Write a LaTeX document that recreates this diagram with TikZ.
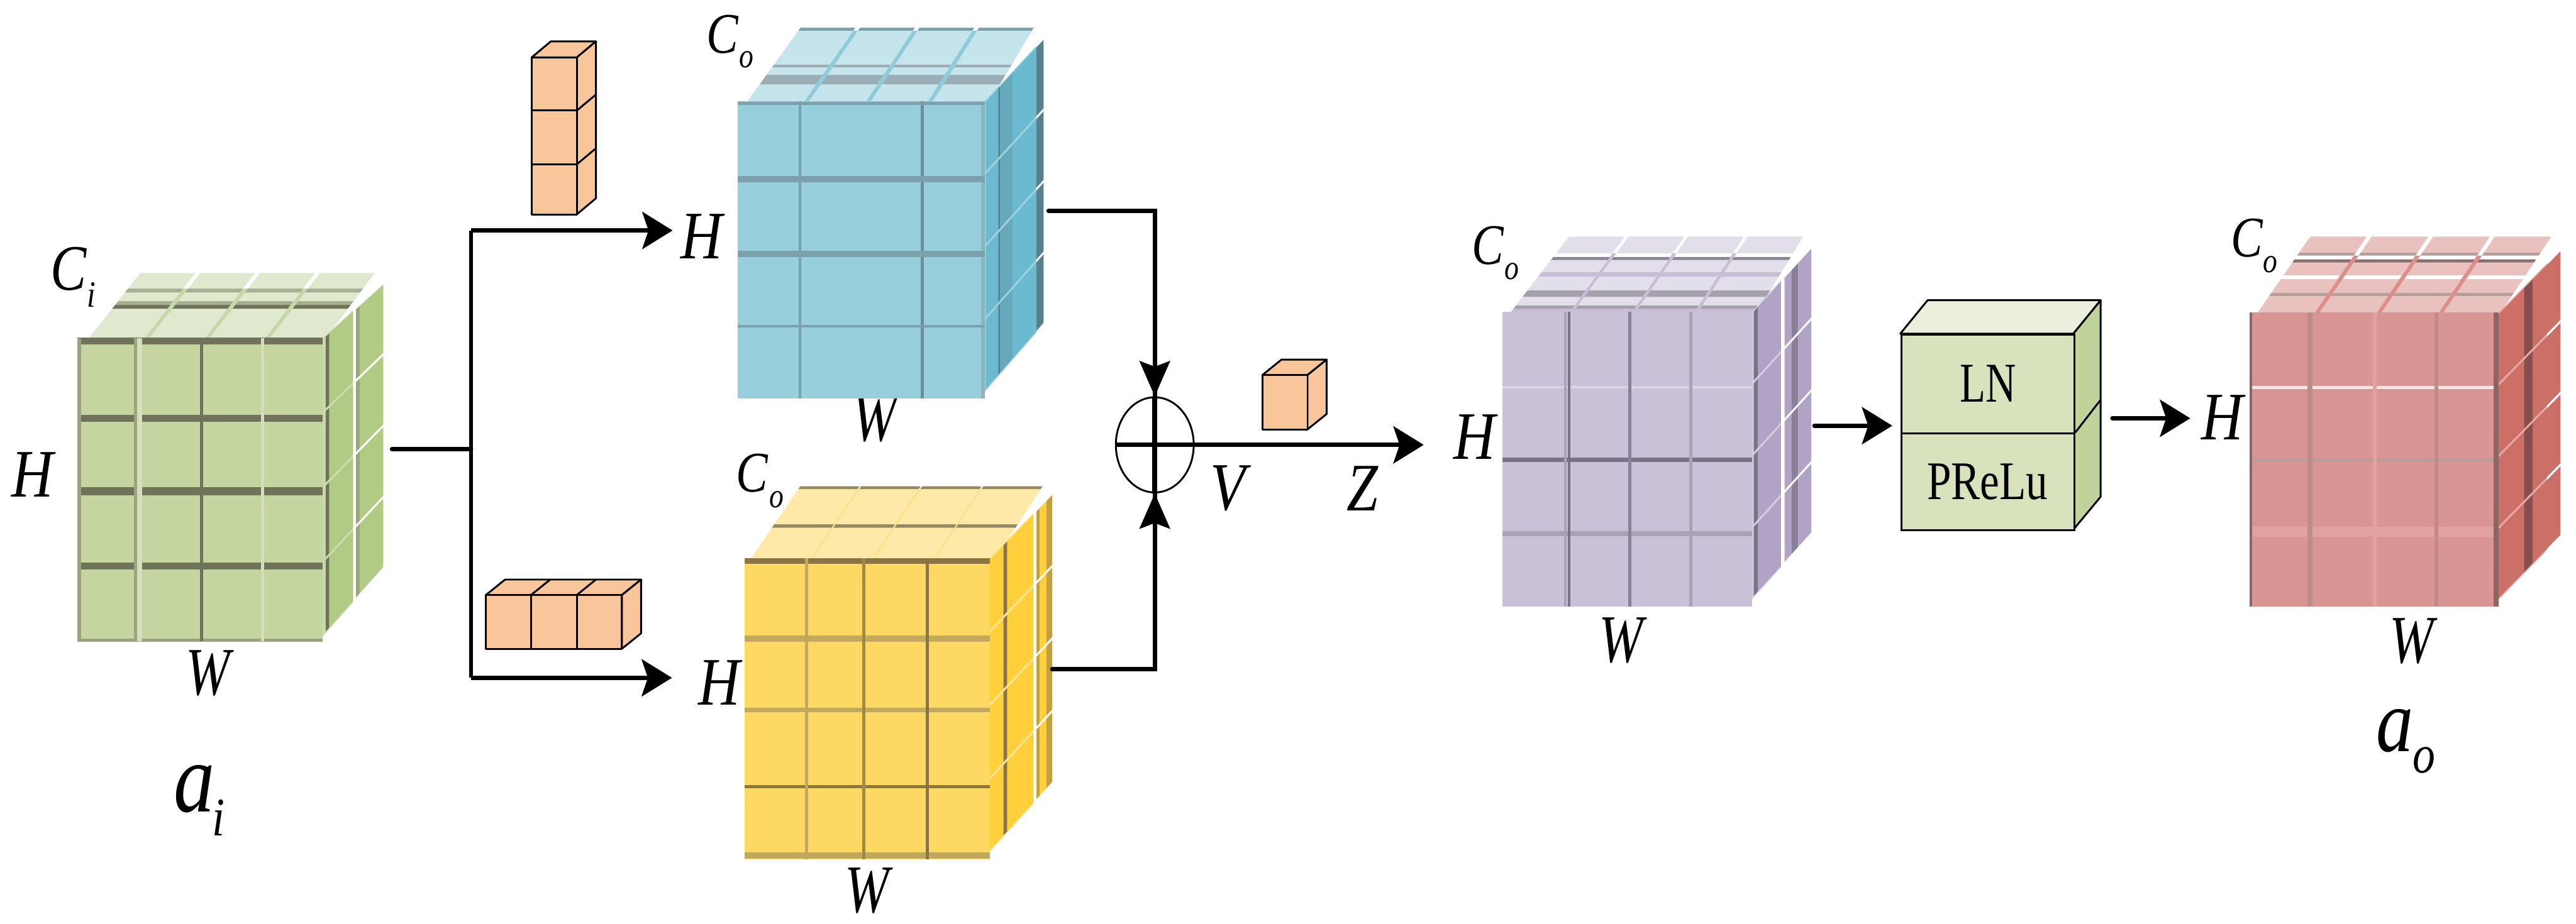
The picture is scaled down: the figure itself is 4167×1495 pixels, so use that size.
\documentclass[tikz,border=0pt]{standalone}
\usepackage{graphicx}
\usepackage{fontspec}
\setmainfont{Liberation Serif}
\usetikzlibrary{arrows.meta,shapes.geometric}
% ---------- colours
\definecolor{gMain}{HTML}{C5D59F}\definecolor{gTop}{HTML}{E0E9CD}\definecolor{gSide}{HTML}{B1CA84}
\definecolor{gDark}{HTML}{6F7359}\definecolor{gEdge}{HTML}{9BA37E}\definecolor{gLite}{HTML}{D3DFBB}
\definecolor{gStrip}{HTML}{A8AE90}\definecolor{gGap}{HTML}{C6D8A6}\definecolor{gBg}{HTML}{C9DAAB}
\definecolor{bMain}{HTML}{96CEDC}\definecolor{bTop}{HTML}{C5E4EC}\definecolor{bSide}{HTML}{6CBACF}
\definecolor{bMid}{HTML}{67A9BC}\definecolor{bDark}{HTML}{55808C}\definecolor{bEdge}{HTML}{7BA2AC}
\definecolor{bStrip}{HTML}{9AAEB5}\definecolor{bLine}{HTML}{6A8F9A}\definecolor{bRim}{HTML}{8DB5C1}
\definecolor{bGap}{HTML}{8FCBDB}\definecolor{bBg}{HTML}{9AD0DE}
\definecolor{yMain}{HTML}{FDD863}\definecolor{yTop}{HTML}{FFE9A8}\definecolor{ySide}{HTML}{FFCF3C}
\definecolor{yDark}{HTML}{8A7642}\definecolor{yEdge}{HTML}{C2A85C}\definecolor{yBack}{HTML}{C2A040}
\definecolor{yStrip}{HTML}{948A62}\definecolor{yLine}{HTML}{9C8A4D}\definecolor{yGap}{HTML}{FFDE7E}
\definecolor{yBg}{HTML}{FFE596}
\definecolor{pMain}{HTML}{CAC1D9}\definecolor{pTop}{HTML}{E2DEEA}\definecolor{pSide}{HTML}{B0A3C6}
\definecolor{pDark}{HTML}{7A7286}\definecolor{pEdge}{HTML}{A8A2B2}\definecolor{pBack}{HTML}{8A8099}
\definecolor{pStrip}{HTML}{A5A1AB}\definecolor{pLite}{HTML}{DAD5E3}\definecolor{pGap}{HTML}{C9BDD6}
\definecolor{pStripD}{HTML}{888490}\definecolor{pBg}{HTML}{D3CCE0}
\definecolor{rMain}{HTML}{D99593}\definecolor{rTop}{HTML}{E9C2C0}\definecolor{rSide}{HTML}{CC6F66}
\definecolor{rDark}{HTML}{85504C}\definecolor{rEdge}{HTML}{BD8C88}\definecolor{rStrip}{HTML}{B59E9C}
\definecolor{rStripD}{HTML}{8A6E6E}\definecolor{rLite}{HTML}{E0A3A0}\definecolor{rWhite}{HTML}{F6E4E3}
\definecolor{rFrame}{HTML}{8D6662}\definecolor{rGap}{HTML}{DC8E88}\definecolor{rBg}{HTML}{E3A6A1}
\definecolor{orangeBox}{HTML}{F9C59B}
\definecolor{lnFront}{HTML}{D8E3BE}\definecolor{lnTop}{HTML}{EBEFDE}\definecolor{lnSide}{HTML}{C0D39B}
% ---------- tensor geometry
\newcommand\setfront[4]{\def\fxa{#1}\def\fya{#2}\def\fxb{#3}\def\fyb{#4}}
% left front, left back, right front, right back, back y, tile gap
\newcommand\settop[6]{\def\tLa{#1}\def\tLb{#2}\def\tRa{#3}\def\tRb{#4}\def\tyb{#5}\def\tgap{#6}}
% back x, back top y, back bottom y, front bottom y, row gap
\newcommand\setside[5]{\def\sxb{#1}\def\syt{#2}\def\syb{#3}\def\syf{#4}\def\srg{#5}}
\newcommand\topband[3]{%
  \pgfmathsetmacro\Ls{\tLa+#1*(\tLb-\tLa)}\pgfmathsetmacro\Le{\tLa+#2*(\tLb-\tLa)}%
  \pgfmathsetmacro\Rs{\tRa+#1*(\tRb-\tRa)}\pgfmathsetmacro\Re{\tRa+#2*(\tRb-\tRa)}%
  \pgfmathsetmacro\Ys{\fya+#1*(\tyb-\fya)}\pgfmathsetmacro\Ye{\fya+#2*(\tyb-\fya)}%
  \foreach \i in {0,1,2,3}{%
    \pgfmathsetmacro\sa{\Ls+(\Rs-\Ls)*\i/4+\tgap/2}\pgfmathsetmacro\sb{\Ls+(\Rs-\Ls)*(\i+1)/4-\tgap/2}%
    \pgfmathsetmacro\ea{\Le+(\Re-\Le)*\i/4+\tgap/2}\pgfmathsetmacro\eb{\Le+(\Re-\Le)*(\i+1)/4-\tgap/2}%
    \fill[#3] (\sa,\Ys) -- (\sb,\Ys) -- (\eb,\Ye) -- (\ea,\Ye) -- cycle;
  }}
\newcommand\topgaps[2]{%
  \foreach \i in {1,2,3}{%
    \pgfmathsetmacro\sa{\tLa+(\tRa-\tLa)*\i/4}\pgfmathsetmacro\ea{\tLa+#2*(\tLb-\tLa)+(\tRa+#2*(\tRb-\tRa)-\tLa-#2*(\tLb-\tLa))*\i/4}%
    \pgfmathsetmacro\ey{\fya+#2*(\tyb-\fya)}%
    \fill[#1] (\sa-\tgap/2,\fya) -- (\sa+\tgap/2,\fya) -- (\ea+\tgap/2,\ey) -- (\ea-\tgap/2,\ey) -- cycle;
  }}
\newcommand\sideband[3]{%
  \pgfmathsetmacro\Xs{\fxb+#1*(\sxb-\fxb)}\pgfmathsetmacro\Xe{\fxb+#2*(\sxb-\fxb)}%
  \pgfmathsetmacro\Tts{\fya+#1*(\syt-\fya)}\pgfmathsetmacro\Tte{\fya+#2*(\syt-\fya)}%
  \pgfmathsetmacro\Bts{\syf+#1*(\syb-\syf)}\pgfmathsetmacro\Bte{\syf+#2*(\syb-\syf)}%
  \foreach \j in {0,1,2,3}{%
    \pgfmathsetmacro\sa{\Tts+(\Bts-\Tts)*\j/4+\srg/2}\pgfmathsetmacro\sb{\Tts+(\Bts-\Tts)*(\j+1)/4-\srg/2}%
    \pgfmathsetmacro\ea{\Tte+(\Bte-\Tte)*\j/4+\srg/2}\pgfmathsetmacro\eb{\Tte+(\Bte-\Tte)*(\j+1)/4-\srg/2}%
    \fill[#3] (\Xs,\sa) -- (\Xe,\ea) -- (\Xe,\eb) -- (\Xs,\sb) -- cycle;
  }}
% solid pale backing of the side face from the front to depth #1
\newcommand\sidebacking[2]{{\def\srg{0}\sideband{0}{#1}{#2}}}
\newcommand\frontface[1]{\fill[#1] (\fxa,\fya) rectangle (\fxb,\fyb);}
\newcommand\frh[3]{\fill[#3] (\fxa,#1-#2/2) rectangle (\fxb,#1+#2/2);}
\newcommand\frv[3]{\fill[#3] (#1-#2/2,\fya) rectangle (#1+#2/2,\fyb);}
% ---------- labels
\newcommand\lab[6]{\node[txt] (#1) at (#2,#3) {\scalebox{#6}[1]{\fontsize{#4}{#4}\selectfont\itshape #5}};}
\newcommand\sublab[9]{\node[txt,anchor=base west] (#1) at (#2,#3) {\scalebox{0.83}[1]{\fontsize{#4}{#4}\selectfont\itshape #5\hspace{#9pt}\raisebox{-#8pt}{\fontsize{#6}{#6}\selectfont #7}}};}
\tikzset{
  txt/.style={inner sep=0pt,outer sep=0pt,anchor=base,text=black},
  boxtext/.style={inner sep=0pt,outer sep=0pt,anchor=base,text=black},
  orangeface/.style={fill=orangeBox,draw=black,line width=3pt,line join=round},
  lnface/.style={draw=black,line width=3pt,line join=round},
  flow/.style={draw=black,line width=7pt,line cap=butt,line join=miter},
  arrowed/.style={flow,-{Stealth[length=49pt,width=60pt,inset=10pt]}},
  arrowedv/.style={flow,-{Stealth[length=57pt,width=49pt,inset=9pt]}},
}
\begin{document}
\begin{tikzpicture}[x=1pt,y=-1pt]
\useasboundingbox (0,0) rectangle (4167,1495);
\fill[white] (0,0) rectangle (4167,1495);

% ---------- labels lying under the tensors
\lab{wb}{1415}{714}{110}{W}{0.78}

% ========== green tensor
\setfront{125}{547}{522}{1038}
\settop{140}{223}{531}{610}{442}{8}
\setside{620}{458}{920}{1030}{5}
\topgaps{gGap}{0.76}
\foreach \a/\b/\c in {0/0.45/gTop,0.45/0.51/gDark,0.51/0.57/gStrip,0.57/0.70/gTop,0.70/0.76/gStrip,0.76/1/gTop}{\topband{\a}{\b}{\c}}
\sidebacking{0.50}{gBg}
\foreach \a/\b/\c in {0.05/0.11/gDark,0.11/0.50/gSide,0.55/0.61/gEdge,0.61/1/gSide}{\sideband{\a}{\b}{\c}}
\frontface{gMain}
\frh{552}{11}{gDark}\frh{677}{12}{gDark}\frh{795}{13}{gDark}\frh{916}{11}{gDark}\frh{1036}{5}{gEdge}
\frv{128}{6}{gEdge}\frv{219.5}{5}{gEdge}\frv{226}{8}{gLite}\frv{326}{6}{gDark}\frv{425}{5}{gLite}

% ========== blue tensor
\setfront{1193}{164}{1593}{645}
\settop{1205}{1291}{1605}{1676}{45}{8}
\setside{1688}{62}{525}{634}{5}
\topgaps{bGap}{0.96}
\foreach \a/\b/\c in {0/0.23/bTop,0.23/0.36/bStrip,0.36/0.46/bTop,0.46/0.50/bStrip,0.50/0.96/bTop,0.96/1/bEdge}{\topband{\a}{\b}{\c}}
\sidebacking{0.88}{bBg}
\foreach \a/\b/\c in {0.02/0.23/bSide,0.23/0.26/bDark,0.26/0.47/bMid,0.47/0.88/bSide,0.88/1/bDark}{\sideband{\a}{\b}{\c}}
\frontface{bMain}
\frv{1294}{5}{bEdge}\frv{1492}{5}{bLine}\frv{1590}{6}{bRim}
\frh{167}{5}{bEdge}\frh{290}{11}{bEdge}\frh{411}{11}{bEdge}\frh{528}{5}{bEdge}

% ========== yellow tensor
\setfront{1204}{903}{1601}{1391}
\settop{1214}{1293}{1612}{1688}{787}{3}
\setside{1702}{799}{1268}{1379}{5}
\topgaps{yGap}{0.96}
\foreach \a/\b/\c in {0/0.42/yTop,0.42/0.47/yStrip,0.47/0.96/yTop,0.96/1/yStrip}{\topband{\a}{\b}{\c}}
\sidebacking{0.70}{yBg}
\foreach \a/\b/\c in {0/0.22/ySide,0.22/0.28/yDark,0.28/0.70/ySide,0.75/0.80/yBack,0.80/0.91/ySide,0.91/1/yBack}{\sideband{\a}{\b}{\c}}
\frontface{yMain}
\frh{908}{10}{yDark}\frh{1034}{10}{yEdge}\frh{1149}{8}{yEdge}\frh{1273}{5}{yDark}\frh{1385}{10}{yEdge}
\frv{1305}{5}{yEdge}\frv{1397}{5}{yLine}\frv{1500}{5}{yDark}

% ========== purple tensor
\setfront{2430}{505}{2834}{982}
\settop{2441}{2535}{2845}{2920}{383}{6}
\setside{2930}{400}{864}{970}{5}
\topgaps{pGap}{0.78}
\foreach \a/\b/\c in {0/0.04/pGap,0.04/0.09/pStrip,0.09/0.20/pTop,0.20/0.29/pStrip,0.29/0.47/pTop,0.47/0.53/pGap,0.53/0.69/pTop,0.69/0.73/pStripD,0.78/1/pTop}{\topband{\a}{\b}{\c}}
\sidebacking{0.49}{pBg}
\foreach \a/\b/\c in {0.03/0.10/pDark,0.10/0.49/pSide,0.55/0.67/pSide,0.67/0.78/pBack,0.78/1/pSide}{\sideband{\a}{\b}{\c}}
\frontface{pMain}
\frh{627}{4}{pLite}\frh{744}{7}{pDark}\frh{864}{8}{pEdge}
\frv{2532}{4}{pEdge}\frv{2538}{4}{pDark}\frv{2636}{5}{pBack}\frv{2735}{5}{pEdge}

% ========== red tensor
\setfront{3639}{506}{4042}{982}
\settop{3648}{3733}{4049}{4131}{383}{8}
\setside{4142}{404}{868}{970}{5}
\topgaps{rGap}{0.75}
\foreach \a/\b/\c in {0/0.22/rTop,0.22/0.26/rStrip,0.26/0.44/rTop,0.49/0.66/rTop,0.66/0.70/rStripD,0.75/0.79/rStrip,0.79/1/rTop}{\topband{\a}{\b}{\c}}
\sidebacking{0.78}{rBg}
\foreach \a/\b/\c in {0/0.41/rSide,0.41/0.55/rDark,0.55/1/rSide}{\sideband{\a}{\b}{\c}}
\frontface{rMain}
\frh{627}{5}{rWhite}\frh{744}{5}{rStrip}\frh{861}{16}{rLite}
\frv{3641}{4}{rFrame}\frv{3737}{8}{rEdge}\frv{3841}{6}{rLite}\frv{3941}{6}{rEdge}\frv{4038}{8}{rFrame}

% ========== orange kernels
% tall kernel
\fill[orangeBox] (860,93) -- (891,67) -- (964,67) -- (964,321) -- (933,347) -- (860,347) -- cycle;
\draw[orangeface] (860,93) -- (891,67) -- (964,67) -- (933,93) -- cycle;
\draw[orangeface] (933,93) -- (964,67) -- (964,321) -- (933,347) -- cycle;
\foreach \y in {93,179,266}{\draw[orangeface] (860,\y) rectangle ++(73,\ifnum\y=266 81\else\ifnum\y=179 87\else 86\fi\fi);}
\draw[orangeface] (933,179) -- (964,153);
\draw[orangeface] (933,266) -- (964,240);
% wide kernel
\draw[orangeface] (786,963) -- (817,938) -- (1037,938) -- (1006,963) -- cycle;
\draw[orangeface] (1006,963) -- (1037,938) -- (1037,1025) -- (1006,1050) -- cycle;
\foreach \x in {786,859,933}{\draw[orangeface] (\x,963) rectangle ++(\ifnum\x=859 74\else 73\fi,87);}
\draw[orangeface] (859,963) -- (890,938);
\draw[orangeface] (933,963) -- (964,938);
% single kernel
\draw[orangeface] (2042,607) -- (2073,582) -- (2146,582) -- (2115,607) -- cycle;
\draw[orangeface] (2115,607) -- (2146,582) -- (2146,670) -- (2115,695) -- cycle;
\draw[orangeface] (2042,607) rectangle (2115,695);

% ========== LN / PReLu block
\draw[lnface,fill=lnTop] (3074,540) -- (3118,486) -- (3398,486) -- (3354,540) -- cycle;
\draw[lnface,fill=lnSide] (3354,540) -- (3398,486) -- (3398,804) -- (3354,857) -- cycle;
\node[draw=black,line width=3pt,fill=lnFront,minimum width=280pt,minimum height=160pt,inner sep=0pt,anchor=north west] (lnbox) at (3074,540) {};
\node[draw=black,line width=3pt,fill=lnFront,minimum width=280pt,minimum height=157pt,inner sep=0pt,anchor=north west] (prelubox) at (3074,700) {};
\draw[lnface] (prelubox.north east) -- (3398,647);
\node[boxtext] (lntext) at (3216,651) {\scalebox{0.75}[1]{\fontsize{91}{91}\selectfont LN}};
\node[boxtext] (prelutext) at (3215,808) {\scalebox{0.8}[1]{\fontsize{88}{88}\selectfont PReLu}};

% ========== connectors
\coordinate (gout) at (634,727);
\coordinate (gsplit) at (762,727);
\coordinate (hblue) at (1088,373);
\coordinate (hyellow) at (1087,1097);
\coordinate (bout) at (1696,341);
\coordinate (yout) at (1702,1083);
\coordinate (zend) at (2303,720);
\coordinate (pout) at (2935,689);
\coordinate (pin) at (3061,689);
\coordinate (lnout) at (3417,677);
\coordinate (rin) at (3543,677);
\node[ellipse,draw=black,line width=3pt,minimum width=126pt,minimum height=154pt,inner sep=0pt] (plus) at (1868,720) {};
\draw[flow,line cap=round] (gout) -- (gsplit);
\draw[arrowed] (gsplit |- hblue) -- (hblue);
\draw[flow] (gsplit) -- (gsplit |- hblue);
\draw[flow] (gsplit) -- (gsplit |- hyellow);
\draw[arrowed] (gsplit |- hyellow) -- (hyellow);
\draw[flow,line width=8pt] (plus.north) -- (plus.south);
\draw[flow,line cap=round] (bout) -| (plus.north);
\draw[arrowedv] (plus.north |- bout) -- (plus.north);
\draw[flow,line cap=round] (yout) -| (plus.south);
\draw[arrowedv] (plus.south |- yout) -- (plus.south);
\draw[arrowed] (plus.west) -- (zend);
\draw[arrowed,line cap=round] (pout) -- (pin);
\draw[arrowed,line cap=round] (lnout) -- (rin);

% ========== labels
\lab{hg}{53}{804}{110}{H}{0.85}
\lab{wg}{336}{1125}{110}{W}{0.78}
\lab{hb}{1135}{419}{110}{H}{0.85}
\lab{hy}{1163}{1141}{110}{H}{0.85}
\lab{wy}{1403}{1477}{110}{W}{0.78}
\lab{hp}{2385}{743}{110}{H}{0.85}
\lab{wp}{2622}{1072}{110}{W}{0.78}
\lab{hr}{3595}{712}{110}{H}{0.85}
\lab{wr}{3901}{1073}{110}{W}{0.78}
\lab{vl}{1986}{826}{110}{V}{0.85}
\lab{zl}{2204}{827}{110}{Z}{0.83}
\sublab{cg}{82}{470}{105}{C}{60}{i}{27}{1}
\sublab{cb}{1143}{86}{93}{C}{56}{o}{23}{2}
\sublab{cy}{1191}{796}{93}{C}{56}{o}{25}{3}
\sublab{cp}{2381}{428}{93}{C}{56}{o}{24}{2}
\sublab{cr}{3609}{416}{93}{C}{56}{o}{25}{1}
\sublab{ai}{281}{1314}{160}{a}{88}{i}{39}{-5}
\sublab{ao}{3844}{1216}{145}{a}{88}{o}{35}{-1}
\end{tikzpicture}
\end{document}
